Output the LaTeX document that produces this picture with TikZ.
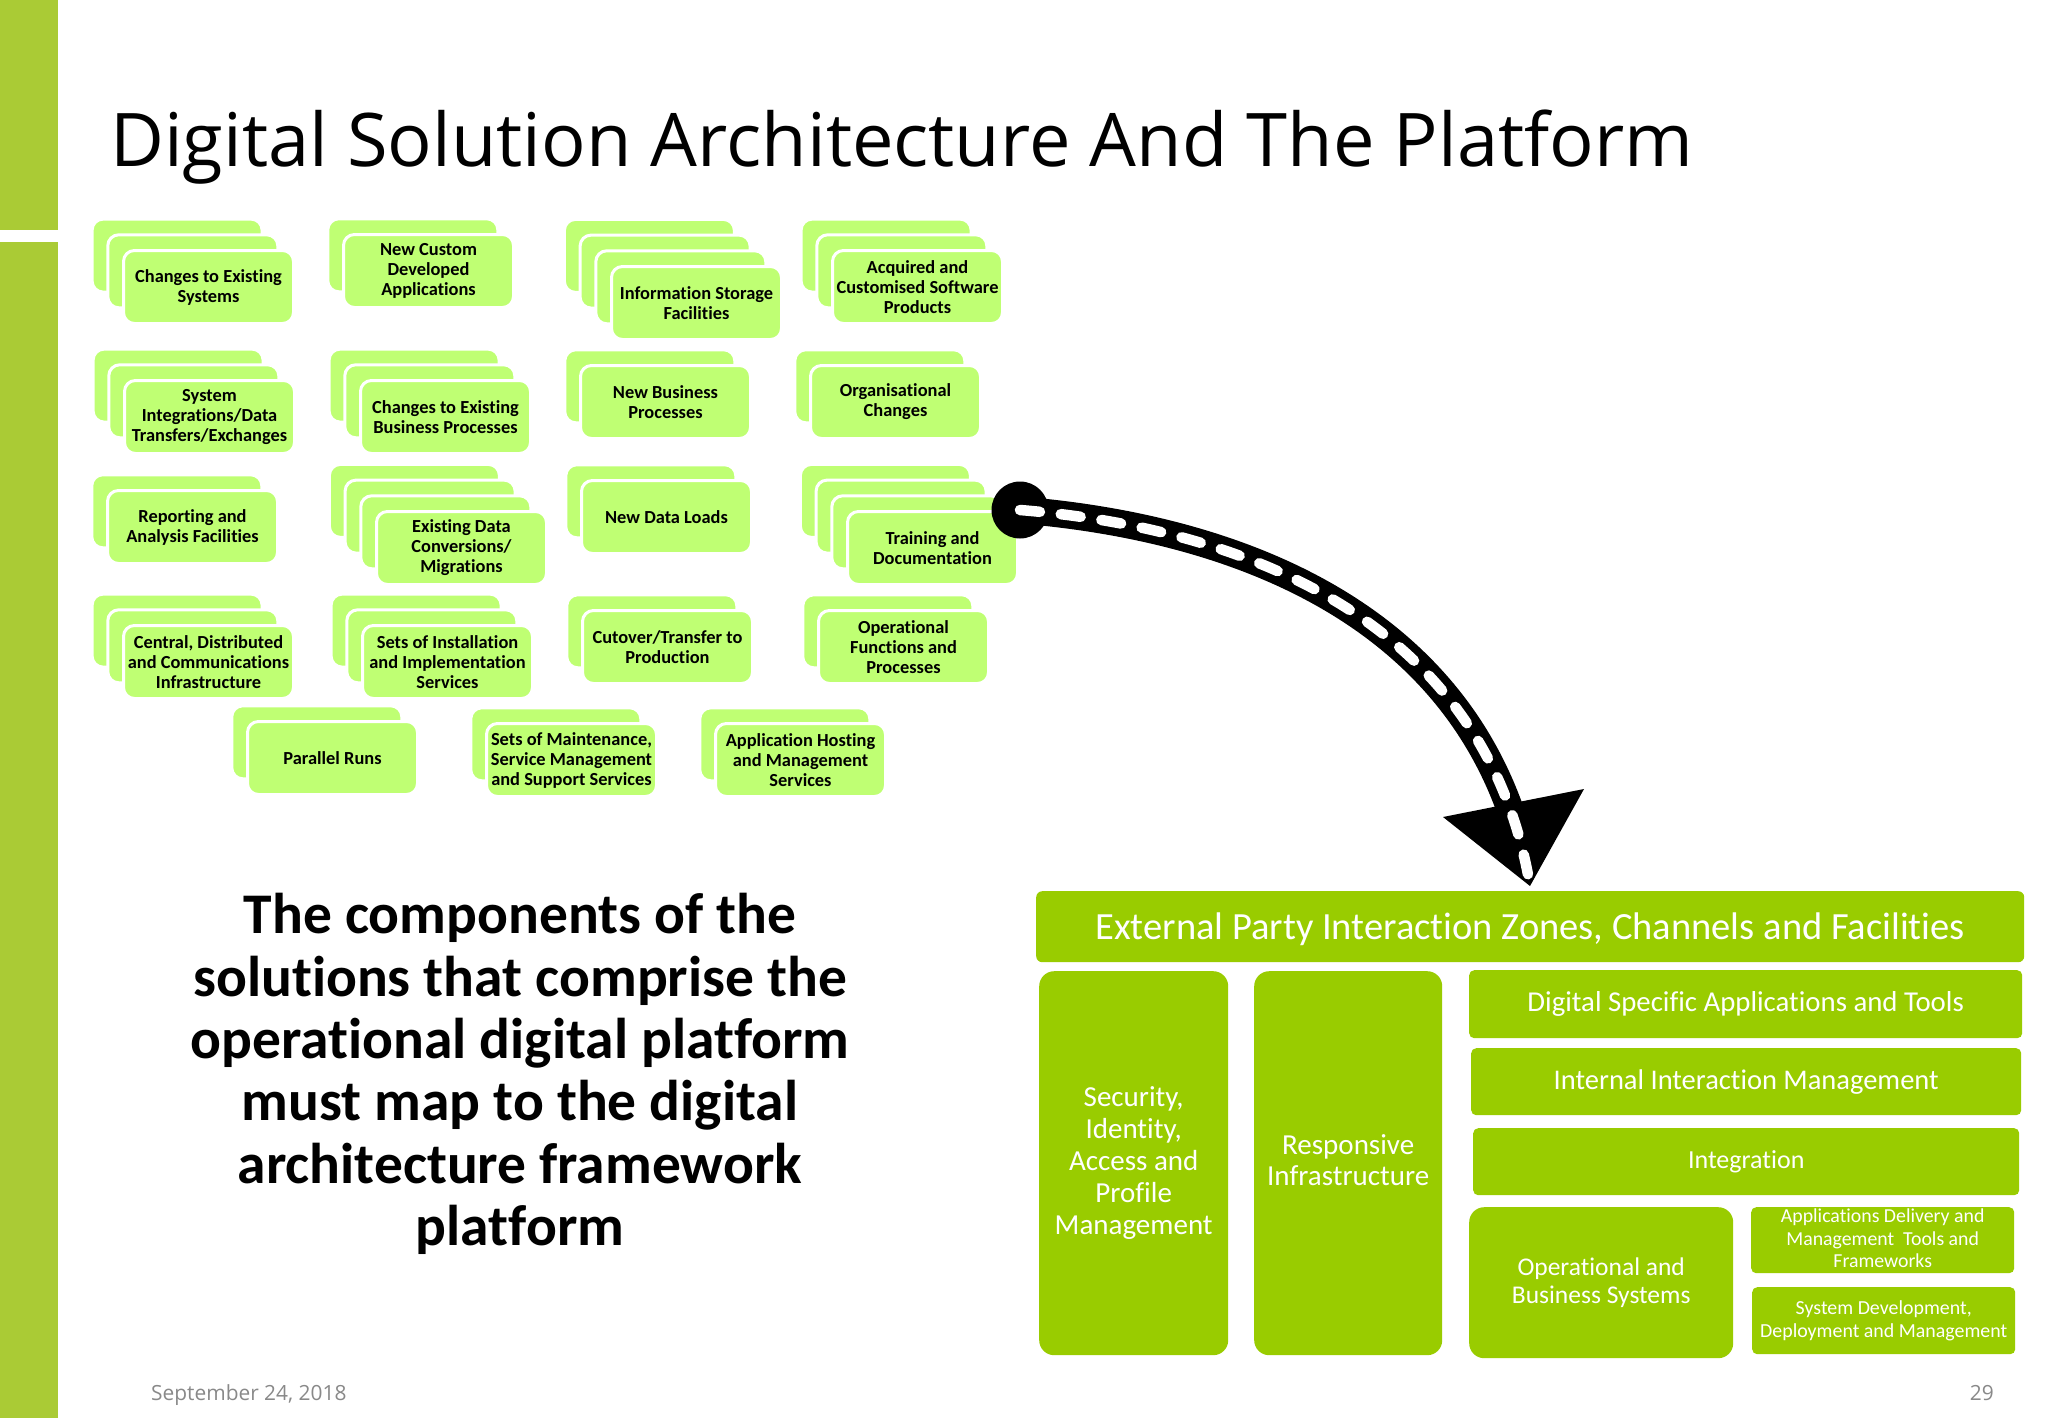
\documentclass[tikz,border=0pt]{standalone}
\usepackage{fontspec}
\setmainfont[Ligatures=NoCommon]{Carlito}
\newfontfamily\titlefont{Open Sans}
\definecolor{lightg}{HTML}{BFFF73}
\definecolor{darkg}{HTML}{99CC00}
\definecolor{sideg}{HTML}{AACB35}
\definecolor{footg}{HTML}{898989}
\tikzset{
  x=1pt,y=-1pt,
  layerbox/.style={fill=lightg,draw=white,line width=3pt,rounded corners=11pt,inner sep=0pt,anchor=north west},
  stacktext/.style={font=\bfseries\fontsize{18.4}{20}\selectfont,align=center,text=black,inner sep=0pt},
  panel/.style={fill=darkg,rounded corners=#1,inner sep=0pt,anchor=north west},
  paneltext/.style={text=white,align=center,inner sep=0pt},
  footer/.style={text=footg,font=\titlefont\fontsize{20.9}{24}\selectfont,inner sep=0pt}
}
% name, left, top, n layers, text
\newcommand{\stackbox}[5]{%
  \foreach \k in {1,...,#4}{%
    \pgfmathsetmacro{\lx}{#2-(#4-\k)*15.7-3}
    \pgfmathsetmacro{\ly}{#3-(#4-\k)*15.7-3}
    \node[layerbox,minimum width=170pt,minimum height=73pt] (#1-\k) at (\lx,\ly) {};
  }
  \node[stacktext] (#1-text) at (#1-#4.center) {#5};
}
\newcommand{\pshift}{0pt}
% name, left, top, right, bottom, radius, font size, line height, text
\newcommand{\panelbox}[9]{%
  \pgfmathsetmacro{\pw}{#4-#2}
  \pgfmathsetmacro{\ph}{#5-#3}
  \node[panel=#6,minimum width=\pw pt,minimum height=\ph pt] (#1) at (#2,#3) {};
  \node[paneltext,font=\fontsize{#7}{#8}\selectfont] (#1-text) at ([yshift=\pshift]#1.center) {#9};
}
\begin{document}
\begin{tikzpicture}
\useasboundingbox (0,0) rectangle (2048,1418);
\fill[white] (0,0) rectangle (2048,1418);
\fill[sideg] (0,0) rectangle (58,230);
\fill[sideg] (0,242) rectangle (58,1418);
\node[anchor=base west,inner sep=0pt,font=\titlefont\fontsize{74}{88}\selectfont] (title) at (110,166) {Digital Solution Architecture And The Platform};

\stackbox{a1}{125}{252}{3}{Changes to Existing\\Systems}
\stackbox{a2}{345}{236}{2}{New Custom\\Developed\\Applications}
\stackbox{a3}{613}{268}{4}{Information Storage\\Facilities}
\stackbox{a4}{834}{252}{3}{Acquired and\\Customised Software\\Products}
\stackbox{b1}{126}{382}{3}{System\\Integrations/Data\\Transfers/Exchanges}
\stackbox{b2}{362}{382}{3}{Changes to Existing\\Business Processes}
\stackbox{b3}{582}{367}{2}{New Business\\Processes}
\stackbox{b4}{812}{367}{2}{Organisational\\Changes}
\stackbox{c1}{109}{492}{2}{Reporting and\\Analysis Facilities}
\stackbox{c2}{378}{513}{4}{Existing Data\\Conversions/\\Migrations}
\stackbox{c3}{583}{482}{2}{New Data Loads}
\stackbox{c4}{849}{513}{4}{Training and\\Documentation}
\stackbox{d1}{125}{627}{3}{Central, Distributed\\and Communications\\Infrastructure}
\stackbox{d2}{364}{627}{3}{Sets of Installation\\and Implementation\\Services}
\stackbox{d3}{584}{612}{2}{Cutover/Transfer to\\Production}
\stackbox{d4}{820}{612}{2}{Operational\\Functions and\\Processes}
\stackbox{e1}{249}{723}{2}{Parallel Runs}
\stackbox{e2}{488}{725}{2}{Sets of Maintenance,\\Service Management\\and Support Services}
\stackbox{e3}{717}{725}{2}{Application Hosting\\and Management\\Services}

% arrow
\coordinate (arrowtip) at (1530,886);
\coordinate (shaftend) at (1512.1,815.3);
\node[circle,fill=black,minimum size=57pt,inner sep=0pt] (dot) at (1020,510) {};
\draw[black,line width=27pt] (dot.center) .. controls (1239.6,528) and (1443,613.2) .. (shaftend);
\fill[black] (1443,817) -- (1584,789) -- (arrowtip) -- cycle;
\draw[white,line width=10.5pt,line cap=round,dash pattern=on 20pt off 21pt] (dot.center) .. controls (1264,530) and (1488,633) .. (arrowtip);

\node[inner sep=0pt,align=center,font=\bfseries\fontsize{57.5}{62.3}\selectfont] (body) at (520,1074) {The components of the\\solutions that comprise the\\operational digital platform\\must map to the digital\\architecture framework\\platform};

\renewcommand{\pshift}{-2.6pt}
\panelbox{ext}{1036}{891}{2024}{962}{6pt}{38.5}{44}{External Party Interaction Zones, Channels and Facilities}
\renewcommand{\pshift}{0pt}
\panelbox{sec}{1039}{971}{1228}{1355}{15pt}{29}{32}{Security,\\Identity,\\Access and\\Profile\\Management}
\renewcommand{\pshift}{2.6pt}
\panelbox{resp}{1254}{971}{1442}{1355}{15pt}{29}{31}{Responsive\\Infrastructure}
\renewcommand{\pshift}{0pt}
\panelbox{dig}{1469}{970}{2022}{1038}{5pt}{28.8}{35}{Digital Specific Applications and Tools}
\panelbox{int}{1471}{1048}{2021}{1115}{5pt}{28.5}{35}{Internal Interaction Management}
\panelbox{integ}{1473}{1128}{2019}{1195}{5pt}{26}{31}{Integration}
\panelbox{ops}{1469}{1207}{1733}{1358}{15pt}{25.5}{28.5}{Operational and\\Business Systems}
\renewcommand{\pshift}{2pt}
\panelbox{apps}{1751}{1207}{2014}{1273}{5pt}{19.8}{22.7}{Applications Delivery and\\Management~ Tools and\\Frameworks}
\renewcommand{\pshift}{0pt}
\panelbox{sysdev}{1752}{1287}{2015}{1354}{5pt}{19.9}{22.7}{System Development,\\Deployment and Management}

\node[footer,anchor=base west] (date) at (151,1400) {September 24, 2018};
\node[footer,anchor=base east] (page) at (1994,1400) {29};
\end{tikzpicture}
\end{document}
